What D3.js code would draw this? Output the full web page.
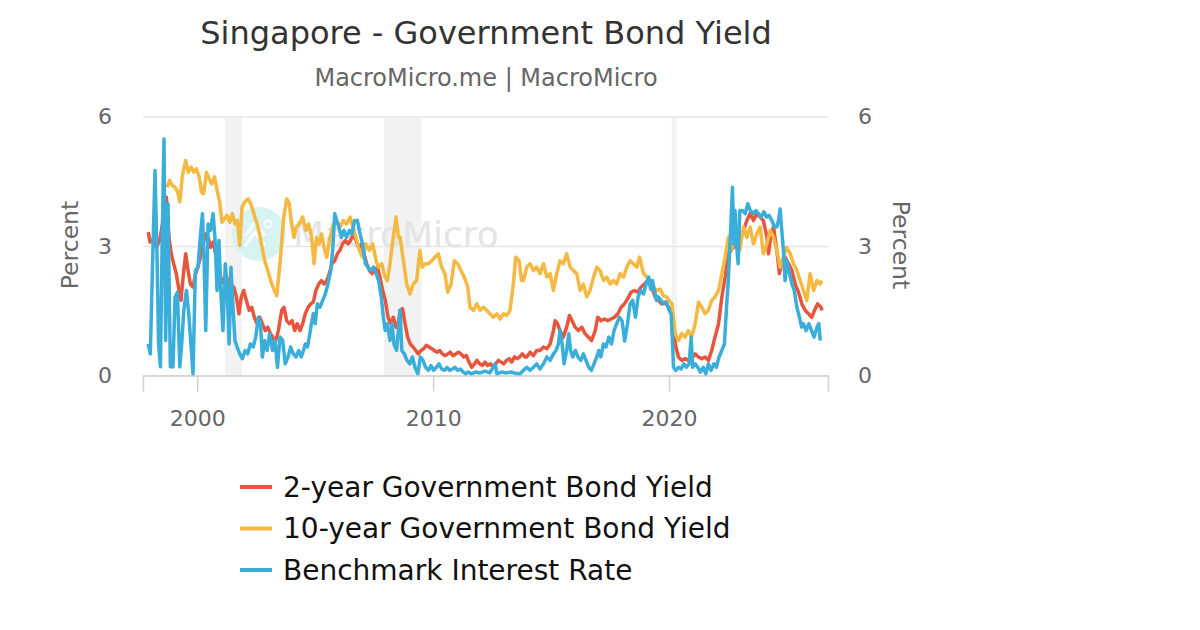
<!DOCTYPE html>
<html>
<head>
<meta charset="utf-8">
<script src="https://cdn.jsdelivr.net/npm/d3@7/dist/d3.min.js"></script>
<style>
  body { margin: 0; background: #fff; }
  text { font-family: "DejaVu Sans", sans-serif; }
</style>
</head>
<body>
<svg id="chart" width="1200" height="630"></svg>
<script>
// ============================================================================
// Singapore - Government Bond Yield (MacroMicro style)
// ============================================================================

// [decimal year, percent]
const twoYear = [[1997.92,3.32],[1998.0,3.09],[1998.12,3.15],[1998.27,2.97],[1998.41,3.13],[1998.55,3.59],[1998.69,4.13],[1998.8,3.2],[1998.9,2.82],[1999.0,2.59],[1999.11,2.36],[1999.23,1.97],[1999.31,1.74],[1999.4,2.28],[1999.51,2.82],[1999.61,2.43],[1999.71,2.12],[1999.82,2.05],[1999.93,2.36],[2000.03,2.51],[2000.13,2.74],[2000.25,3.05],[2000.36,3.28],[2000.46,3.2],[2000.57,2.97],[2000.67,3.09],[2000.78,2.82],[2000.88,2.51],[2000.98,2.12],[2001.09,2.2],[2001.21,2.36],[2001.32,2.12],[2001.43,1.97],[2001.55,2.05],[2001.66,1.82],[2001.77,1.43],[2001.87,1.82],[2001.97,1.97],[2002.08,1.74],[2002.2,1.51],[2002.31,1.58],[2002.42,1.35],[2002.54,1.2],[2002.65,1.35],[2002.76,1.2],[2002.88,1.04],[2002.99,1.12],[2003.1,0.97],[2003.2,0.89],[2003.3,0.75],[2003.44,1.04],[2003.58,1.51],[2003.68,1.58],[2003.79,1.27],[2003.9,1.2],[2004.02,1.27],[2004.13,1.04],[2004.24,1.2],[2004.36,1.04],[2004.47,1.2],[2004.58,1.43],[2004.7,1.58],[2004.81,1.66],[2004.92,1.7],[2005.03,1.97],[2005.15,2.12],[2005.26,2.2],[2005.37,2.12],[2005.49,2.2],[2005.6,2.36],[2005.71,2.59],[2005.83,2.66],[2005.94,2.82],[2006.05,2.9],[2006.16,3.05],[2006.28,3.13],[2006.39,3.05],[2006.5,3.13],[2006.62,3.28],[2006.73,3.13],[2006.84,2.97],[2006.96,3.05],[2007.07,2.82],[2007.18,2.59],[2007.3,2.43],[2007.41,2.36],[2007.52,2.43],[2007.64,2.51],[2007.75,2.28],[2007.86,1.97],[2007.97,1.74],[2008.09,1.35],[2008.2,1.2],[2008.31,1.35],[2008.43,1.12],[2008.5,1.12],[2008.6,1.51],[2008.7,1.55],[2008.81,1.2],[2008.92,0.89],[2009.03,0.73],[2009.15,0.66],[2009.26,0.58],[2009.37,0.5],[2009.49,0.58],[2009.6,0.62],[2009.71,0.7],[2009.83,0.66],[2009.94,0.62],[2010.05,0.58],[2010.16,0.54],[2010.28,0.58],[2010.39,0.5],[2010.5,0.46],[2010.62,0.5],[2010.73,0.54],[2010.84,0.46],[2010.96,0.5],[2011.07,0.54],[2011.18,0.5],[2011.3,0.43],[2011.41,0.46],[2011.52,0.31],[2011.64,0.19],[2011.75,0.27],[2011.86,0.35],[2011.97,0.27],[2012.09,0.23],[2012.2,0.31],[2012.31,0.23],[2012.43,0.27],[2012.54,0.19],[2012.65,0.27],[2012.77,0.35],[2012.88,0.31],[2012.99,0.27],[2013.11,0.35],[2013.22,0.39],[2013.33,0.31],[2013.45,0.43],[2013.56,0.39],[2013.67,0.43],[2013.78,0.5],[2013.9,0.43],[2013.97,0.43],[2014.11,0.54],[2014.25,0.46],[2014.39,0.58],[2014.53,0.58],[2014.68,0.66],[2014.82,0.62],[2014.96,0.73],[2015.1,1.04],[2015.17,1.27],[2015.27,1.2],[2015.38,1.04],[2015.52,0.89],[2015.66,1.12],[2015.78,1.39],[2015.89,1.27],[2016.02,1.12],[2016.16,1.04],[2016.3,1.12],[2016.44,0.97],[2016.58,0.89],[2016.72,0.81],[2016.87,1.04],[2016.98,1.35],[2017.12,1.27],[2017.26,1.31],[2017.4,1.27],[2017.54,1.31],[2017.69,1.35],[2017.83,1.43],[2017.97,1.58],[2018.11,1.66],[2018.25,1.78],[2018.39,1.93],[2018.53,1.97],[2018.67,1.93],[2018.82,2.05],[2018.96,2.12],[2019.1,2.2],[2019.27,2.05],[2019.41,1.82],[2019.55,1.74],[2019.69,1.66],[2019.83,1.7],[2019.98,1.58],[2020.09,1.51],[2020.19,1.04],[2020.29,0.66],[2020.4,0.43],[2020.54,0.35],[2020.68,0.39],[2020.82,0.35],[2020.96,0.39],[2021.11,0.5],[2021.25,0.43],[2021.39,0.39],[2021.53,0.43],[2021.67,0.35],[2021.81,0.58],[2021.95,0.89],[2022.1,1.2],[2022.24,1.82],[2022.38,2.28],[2022.52,2.82],[2022.63,2.9],[2022.73,2.97],[2022.87,3.13],[2022.99,3.2],[2023.16,3.36],[2023.3,3.59],[2023.44,3.75],[2023.58,3.59],[2023.72,3.75],[2023.86,3.67],[2024.0,3.59],[2024.15,3.21],[2024.22,2.82],[2024.32,3.28],[2024.43,3.44],[2024.57,2.9],[2024.68,2.36],[2024.8,2.66],[2024.92,2.74],[2025.07,2.59],[2025.21,2.43],[2025.35,2.12],[2025.49,1.93],[2025.63,1.66],[2025.77,1.51],[2025.91,1.43],[2026.05,1.35],[2026.17,1.51],[2026.3,1.66],[2026.44,1.58],[2026.49,1.51]];

const tenYear = [[1998.72,4.36],[1998.83,4.52],[1998.94,4.4],[1999.06,4.36],[1999.17,4.25],[1999.26,4.02],[1999.37,4.63],[1999.51,4.98],[1999.62,4.71],[1999.74,4.83],[1999.85,4.71],[1999.96,4.79],[2000.08,4.6],[2000.18,4.25],[2000.27,4.21],[2000.39,4.71],[2000.5,4.56],[2000.61,4.44],[2000.73,4.6],[2000.84,4.29],[2000.95,4.02],[2001.05,3.55],[2001.16,3.63],[2001.26,3.71],[2001.38,3.55],[2001.49,3.75],[2001.6,3.51],[2001.7,3.59],[2001.8,3.01],[2001.9,3.9],[2002.01,4.02],[2002.16,4.09],[2002.3,3.94],[2002.44,3.67],[2002.58,3.44],[2002.72,3.05],[2002.86,2.66],[2002.99,2.43],[2003.14,2.15],[2003.28,1.95],[2003.37,1.85],[2003.51,2.6],[2003.65,3.59],[2003.79,4.09],[2003.9,3.98],[2004.0,3.51],[2004.1,3.2],[2004.2,3.44],[2004.33,3.51],[2004.47,3.67],[2004.61,3.36],[2004.72,3.51],[2004.85,3.2],[2004.95,2.59],[2005.06,3.2],[2005.17,3.05],[2005.27,3.28],[2005.37,2.97],[2005.49,2.74],[2005.63,3.2],[2005.77,3.51],[2005.91,3.59],[2006.05,3.44],[2006.19,3.59],[2006.33,3.51],[2006.48,3.67],[2006.59,3.44],[2006.73,3.2],[2006.87,2.9],[2007.01,2.74],[2007.15,3.05],[2007.3,2.9],[2007.44,3.05],[2007.58,2.66],[2007.68,2.51],[2007.82,2.59],[2007.96,2.28],[2008.06,2.2],[2008.17,2.59],[2008.31,3.2],[2008.43,3.67],[2008.53,3.2],[2008.6,3.2],[2008.74,2.66],[2008.88,2.12],[2009.02,1.89],[2009.16,2.12],[2009.3,2.2],[2009.44,2.9],[2009.54,2.51],[2009.66,2.59],[2009.8,2.59],[2009.94,2.66],[2010.08,2.74],[2010.22,2.82],[2010.36,2.51],[2010.5,2.36],[2010.62,1.93],[2010.76,2.12],[2010.9,2.66],[2011.04,2.59],[2011.18,2.43],[2011.32,2.28],[2011.47,2.05],[2011.56,1.58],[2011.71,1.51],[2011.85,1.66],[2011.99,1.51],[2012.13,1.58],[2012.27,1.51],[2012.41,1.43],[2012.55,1.35],[2012.7,1.43],[2012.84,1.31],[2012.98,1.43],[2013.12,1.39],[2013.26,1.51],[2013.4,2.12],[2013.5,2.74],[2013.64,2.66],[2013.75,2.2],[2013.83,2.2],[2013.97,2.51],[2014.11,2.59],[2014.25,2.43],[2014.39,2.51],[2014.53,2.36],[2014.68,2.59],[2014.82,2.28],[2014.96,2.36],[2015.1,1.97],[2015.24,2.36],[2015.38,2.66],[2015.52,2.59],[2015.66,2.82],[2015.81,2.51],[2015.95,2.43],[2016.09,2.36],[2016.23,1.97],[2016.37,2.12],[2016.51,1.82],[2016.65,1.97],[2016.8,2.28],[2016.94,2.51],[2017.08,2.43],[2017.22,2.2],[2017.36,2.28],[2017.5,2.12],[2017.64,2.2],[2017.78,2.12],[2017.93,2.36],[2018.07,2.28],[2018.21,2.51],[2018.35,2.66],[2018.49,2.59],[2018.63,2.51],[2018.75,2.74],[2018.92,2.36],[2019.06,2.28],[2019.2,2.2],[2019.34,2.05],[2019.48,1.97],[2019.62,2.0],[2019.76,1.85],[2019.9,1.82],[2020.0,1.74],[2020.12,1.66],[2020.19,1.35],[2020.26,0.97],[2020.4,0.81],[2020.54,0.97],[2020.68,0.89],[2020.82,1.04],[2020.96,0.89],[2021.11,1.2],[2021.25,1.7],[2021.39,1.58],[2021.53,1.43],[2021.67,1.51],[2021.81,1.74],[2021.95,1.82],[2022.1,1.97],[2022.24,2.36],[2022.38,2.74],[2022.52,3.21],[2022.63,2.9],[2022.73,3.05],[2022.87,3.13],[2023.0,2.9],[2023.16,3.44],[2023.3,3.2],[2023.44,3.44],[2023.58,3.05],[2023.72,3.28],[2023.86,3.44],[2024.0,2.82],[2024.15,3.05],[2024.29,3.36],[2024.43,3.2],[2024.57,2.9],[2024.71,2.51],[2024.85,2.74],[2024.99,2.97],[2025.14,2.82],[2025.28,2.59],[2025.42,2.43],[2025.56,2.2],[2025.7,1.97],[2025.84,1.74],[2025.98,2.36],[2026.13,1.97],[2026.27,2.2],[2026.41,2.12],[2026.48,2.2]];

const benchmark = [[1997.92,0.73],[1998.01,0.5],[1998.12,2.9],[1998.21,4.75],[1998.29,2.9],[1998.36,0.73],[1998.44,0.2],[1998.51,3.05],[1998.59,5.48],[1998.66,0.81],[1998.76,3.98],[1998.86,0.2],[1998.97,0.2],[1999.06,1.82],[1999.16,1.93],[1999.26,0.2],[1999.34,0.73],[1999.43,1.51],[1999.54,1.97],[1999.64,1.43],[1999.72,0.81],[1999.82,0.04],[1999.92,2.43],[2000.03,2.51],[2000.13,3.21],[2000.22,3.75],[2000.29,2.66],[2000.36,1.04],[2000.46,3.51],[2000.56,3.36],[2000.67,3.75],[2000.75,3.2],[2000.84,1.97],[2000.92,3.13],[2001.01,1.82],[2001.09,1.04],[2001.19,2.59],[2001.28,1.82],[2001.35,0.73],[2001.43,2.51],[2001.52,1.51],[2001.6,0.81],[2001.69,0.66],[2001.8,0.5],[2001.91,0.39],[2002.03,0.58],[2002.14,0.5],[2002.25,0.73],[2002.37,0.66],[2002.48,0.89],[2002.59,1.35],[2002.68,1.2],[2002.76,0.43],[2002.86,0.81],[2002.96,0.58],[2003.07,0.97],[2003.19,0.58],[2003.3,0.81],[2003.4,0.19],[2003.51,0.89],[2003.62,0.81],[2003.73,0.27],[2003.85,0.43],[2003.96,0.66],[2004.07,0.5],[2004.19,0.43],[2004.3,0.58],[2004.41,0.43],[2004.5,0.58],[2004.58,0.73],[2004.67,0.66],[2004.75,0.89],[2004.84,1.2],[2004.92,1.43],[2005.0,1.2],[2005.09,1.66],[2005.2,1.58],[2005.32,1.74],[2005.43,1.89],[2005.54,2.12],[2005.66,2.43],[2005.74,2.9],[2005.83,3.75],[2005.91,3.59],[2006.0,3.44],[2006.11,3.2],[2006.22,3.36],[2006.33,3.2],[2006.45,3.36],[2006.56,3.28],[2006.67,3.59],[2006.79,3.59],[2006.9,3.28],[2007.01,3.05],[2007.13,2.59],[2007.24,2.51],[2007.35,2.43],[2007.47,2.51],[2007.58,2.36],[2007.69,2.2],[2007.8,1.82],[2007.89,1.35],[2007.97,1.04],[2008.06,1.2],[2008.17,0.81],[2008.26,1.2],[2008.34,0.73],[2008.45,0.58],[2008.5,0.89],[2008.6,1.51],[2008.67,0.58],[2008.78,0.5],[2008.89,0.35],[2009.01,0.27],[2009.12,0.43],[2009.23,0.19],[2009.35,0.04],[2009.46,0.43],[2009.57,0.35],[2009.68,0.19],[2009.8,0.12],[2009.91,0.23],[2010.02,0.12],[2010.14,0.19],[2010.25,0.27],[2010.36,0.15],[2010.48,0.12],[2010.59,0.19],[2010.7,0.12],[2010.82,0.15],[2010.93,0.19],[2011.04,0.12],[2011.15,0.15],[2011.27,0.08],[2011.38,0.04],[2011.49,0.08],[2011.61,0.04],[2011.8,0.08],[2012.0,0.06],[2012.2,0.1],[2012.4,0.06],[2012.63,0.27],[2012.7,0.04],[2012.9,0.08],[2013.1,0.06],[2013.3,0.08],[2013.5,0.05],[2013.69,0.04],[2013.83,0.12],[2013.97,0.19],[2014.11,0.12],[2014.25,0.19],[2014.39,0.27],[2014.53,0.15],[2014.68,0.27],[2014.82,0.43],[2014.96,0.35],[2015.1,0.5],[2015.21,0.58],[2015.31,0.73],[2015.38,1.04],[2015.47,0.73],[2015.55,0.27],[2015.66,0.58],[2015.75,0.97],[2015.83,0.58],[2015.92,0.43],[2016.03,0.58],[2016.14,0.43],[2016.26,0.35],[2016.37,0.5],[2016.48,0.35],[2016.6,0.19],[2016.71,0.12],[2016.82,0.27],[2016.94,0.43],[2017.02,0.58],[2017.11,0.43],[2017.22,0.73],[2017.33,0.66],[2017.45,0.89],[2017.56,0.73],[2017.67,1.04],[2017.78,1.2],[2017.9,1.35],[2018.01,1.27],[2018.12,0.8],[2018.24,1.2],[2018.35,1.66],[2018.46,1.74],[2018.58,1.35],[2018.69,1.82],[2018.8,1.97],[2018.92,1.89],[2019.03,2.12],[2019.14,2.28],[2019.22,2.0],[2019.3,2.2],[2019.38,1.97],[2019.47,1.74],[2019.55,1.82],[2019.66,1.74],[2019.78,1.66],[2019.89,1.7],[2020.0,1.51],[2020.09,1.43],[2020.15,0.73],[2020.19,0.19],[2020.29,0.12],[2020.4,0.19],[2020.51,0.15],[2020.63,0.27],[2020.74,0.19],[2020.85,0.27],[2020.94,0.89],[2021.0,0.19],[2021.11,0.27],[2021.22,0.19],[2021.33,0.08],[2021.45,0.19],[2021.56,0.04],[2021.67,0.27],[2021.78,0.12],[2021.9,0.27],[2022.01,0.19],[2022.12,0.43],[2022.24,0.58],[2022.35,0.73],[2022.43,1.51],[2022.52,2.28],[2022.6,3.21],[2022.69,4.36],[2022.75,3.05],[2022.8,3.82],[2022.86,3.05],[2022.93,2.59],[2023.0,3.82],[2023.11,3.82],[2023.23,3.75],[2023.34,3.98],[2023.45,3.82],[2023.57,3.75],[2023.68,3.82],[2023.79,3.75],[2023.9,3.67],[2024.02,3.79],[2024.13,3.67],[2024.24,3.71],[2024.36,3.59],[2024.47,3.44],[2024.57,3.44],[2024.64,3.59],[2024.71,3.86],[2024.78,3.36],[2024.85,2.9],[2024.92,2.2],[2024.99,2.66],[2025.11,2.36],[2025.21,2.12],[2025.31,1.97],[2025.42,1.58],[2025.53,1.35],[2025.62,1.12],[2025.7,1.2],[2025.81,1.04],[2025.93,1.2],[2026.04,1.04],[2026.15,0.89],[2026.27,1.12],[2026.35,1.2],[2026.41,0.81]];

// recession bands [start, end]
const recessions = [[2001.17, 2001.9], [2007.92, 2009.5], [2020.12, 2020.34]];

const seriesNames = ['2-year Government Bond Yield', '10-year Government Bond Yield', 'Benchmark Interest Rate'];
const seriesColors = ['#e8553d', '#f5b840', '#3aaedb'];
const seriesData = [twoYear, tenYear, benchmark];

const xTicks = [2000, 2010, 2020];
const yTicks = [0, 3, 6];

// ---------------------------------------------------------------------------
const svg = d3.select('#chart');
const plot = { left: 143, right: 828, top: 116.5, bottom: 375.5 };

const x = d3.scaleLinear().domain([1997.7, 2026.74]).range([plot.left, plot.right]);
const y = d3.scaleLinear().domain([0, 6]).range([plot.bottom, plot.top]);

// Title
svg.append('text')
    .attr('x', 486).attr('y', 44)
    .attr('text-anchor', 'middle')
    .attr('font-size', 32)
    .attr('fill', '#333')
    .text('Singapore - Government Bond Yield');

svg.append('text')
    .attr('x', 486).attr('y', 86)
    .attr('text-anchor', 'middle')
    .attr('font-size', 24)
    .attr('fill', '#666')
    .text('MacroMicro.me | MacroMicro');

// Recession bands
svg.append('g').selectAll('rect')
    .data(recessions)
    .join('rect')
    .attr('x', d => x(d[0]))
    .attr('width', d => x(d[1]) - x(d[0]))
    .attr('y', plot.top)
    .attr('height', plot.bottom - plot.top)
    .attr('fill', '#f2f2f2');

// Grid (left axis carries the lines)
const leftAxis = svg.append('g')
    .attr('transform', `translate(${plot.left},0)`)
    .call(d3.axisLeft(y).tickValues(yTicks).tickFormat(d3.format('d'))
        .tickSize(-(plot.right - plot.left)).tickPadding(31));
leftAxis.select('.domain').remove();
leftAxis.selectAll('line').attr('stroke', '#e6e6e6').attr('stroke-width', 1.5);
leftAxis.selectAll('text')
    .attr('font-family', '"DejaVu Sans", sans-serif')
    .attr('font-size', 22)
    .attr('fill', '#666');

const rightAxis = svg.append('g')
    .attr('transform', `translate(${plot.right},0)`)
    .call(d3.axisRight(y).tickValues(yTicks).tickFormat(d3.format('d'))
        .tickSize(0).tickPadding(30));
rightAxis.select('.domain').remove();
rightAxis.selectAll('text')
    .attr('font-family', '"DejaVu Sans", sans-serif')
    .attr('font-size', 22)
    .attr('fill', '#666');

// Watermark
const wm = svg.append('g');
wm.append('circle').attr('cx', 259).attr('cy', 234).attr('r', 27).attr('fill', '#d6f4f1');
wm.append('path')
    .attr('d', 'M245,246 L255,232 L265,246 M245,236 L255,222 L265,236')
    .attr('fill', 'none').attr('stroke', '#fff').attr('stroke-width', 3);
wm.append('circle').attr('cx', 268).attr('cy', 224).attr('r', 3.5)
    .attr('fill', 'none').attr('stroke', '#fff').attr('stroke-width', 2);
wm.append('text')
    .attr('x', 293).attr('y', 247)
    .attr('font-size', 36)
    .attr('fill', '#e4e4e4')
    .text('MacroMicro');

// Bottom axis
const bottomAxis = svg.append('g')
    .attr('transform', `translate(0,${plot.bottom})`)
    .call(d3.axisBottom(x).tickValues(xTicks).tickFormat(d3.format('d')).tickSize(16).tickPadding(19));
bottomAxis.select('.domain').attr('stroke', '#d0d0d0').attr('stroke-width', 1.5);
bottomAxis.selectAll('line').attr('stroke', '#d0d0d0').attr('stroke-width', 1.5);
bottomAxis.selectAll('text')
    .attr('font-family', '"DejaVu Sans", sans-serif')
    .attr('font-size', 22)
    .attr('fill', '#666');

// Axis titles
svg.append('text')
    .attr('transform', 'translate(78,245) rotate(-90)')
    .attr('text-anchor', 'middle')
    .attr('font-size', 23.5)
    .attr('fill', '#666')
    .text('Percent');

svg.append('text')
    .attr('transform', 'translate(893,245) rotate(90)')
    .attr('text-anchor', 'middle')
    .attr('font-size', 23.5)
    .attr('fill', '#666')
    .text('Percent');

// Lines
const line = d3.line()
    .x(d => x(d[0]))
    .y(d => y(d[1]));

svg.append('g').selectAll('path')
    .data(seriesData)
    .join('path')
    .attr('d', line)
    .attr('fill', 'none')
    .attr('stroke', (d, i) => seriesColors[i])
    .attr('stroke-width', 3.5)
    .attr('stroke-linejoin', 'round');

// Legend
const legend = svg.append('g').selectAll('g')
    .data(seriesNames)
    .join('g')
    .attr('transform', (d, i) => `translate(240,${487 + i * 41.5})`);
legend.append('line')
    .attr('x1', 0).attr('x2', 32)
    .attr('stroke', (d, i) => seriesColors[i])
    .attr('stroke-width', 4);
legend.append('text')
    .attr('x', 43)
    .attr('dy', '0.35em')
    .attr('font-size', 28)
    .attr('fill', '#111')
    .text(d => d);
</script>
</body>
</html>
